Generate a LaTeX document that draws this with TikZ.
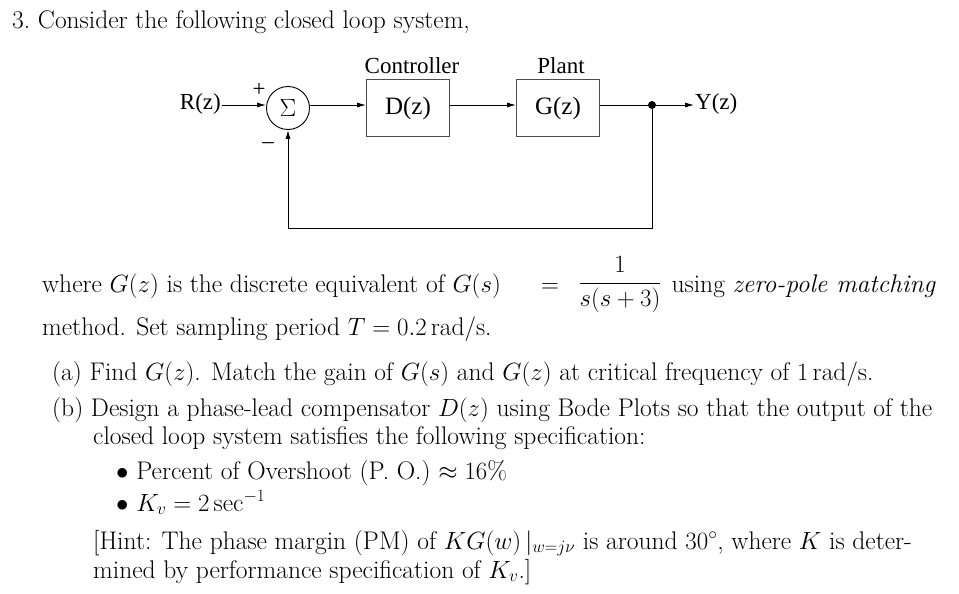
\documentclass[tikz,border=0pt]{standalone}
\usepackage{amsmath,amssymb}
\usepackage{fontspec}
\setmainfont{Latin Modern Roman}
\newfontfamily\diag{Liberation Serif}
\usetikzlibrary{arrows.meta}
\begin{document}
\begin{tikzpicture}[x=1pt,y=-1pt,
  blk/.style={draw=black!70,line width=0.9pt,minimum width=83pt,minimum height=57pt,font=\diag\fontsize{25}{28}\selectfont},
  lbl/.style={font=\diag\fontsize{23}{26}\selectfont},
  conn/.style={line width=0.9pt,-{Latex[length=9pt,width=5pt]}},
  txt/.style={anchor=north west,inner sep=0pt,font=\fontsize{25.5}{30}\selectfont}]
\useasboundingbox (0,0) rectangle (959,594);
\node[txt] (t0) at (12,10) {3.\ Consider the following closed loop system,};
\node[draw,circle,line width=0.9pt,minimum size=43pt,inner sep=0pt,font=\fontsize{30}{32}\selectfont] (s) at (288,108) {$\Sigma$};
\node[blk] (d) at (408,108) {D(z)};
\node[blk] (g) at (558,108) {G(z)};
\node[lbl,anchor=east,inner sep=1pt] (r) at (222,104) {R(z)};
\node[lbl,anchor=west,inner sep=1pt] (y) at (694,104) {Y(z)};
\node[lbl] (cl) at (412,66) {Controller};
\node[lbl] (pl) at (561,66) {Plant};
\node[font=\diag\fontsize{23}{24}\selectfont] (pp) at (259,90) {+};
\node[font=\diag\fontsize{23}{24}\selectfont] (mm) at (268,146) {\textendash};
\coordinate (j) at (652,105);
\coordinate (b1) at (652,228);
\coordinate (b2) at (288,228);
\fill (j) circle (4pt);
\draw[conn] (r.east |- j) -- (s.west |- j);
\draw[conn] (s.east |- j) -- (d.west |- j);
\draw[conn] (d.east |- j) -- (g.west |- j);
\draw[line width=0.9pt] (g.east |- j) -- (j);
\draw[conn] (j) -- (y.west |- j);
\draw[conn] (j) -- (b1) -- (b2) -- (s.south);
\node[txt,anchor=base west] (t1) at (42,292) {where $G(z)$ is the discrete equivalent of $G(s)$};
\node[inner sep=0pt,font=\fontsize{25.5}{30}\selectfont,anchor=base] (eq) at (550,292) {$=$};
\node[inner sep=0pt,font=\fontsize{25.5}{30}\selectfont] (fr) at (620,285) {$\dfrac{1}{s(s+3)}$};
\node[txt,anchor=base east] (t1b) at (936,292) {using \textit{zero-pole matching}};
\node[txt,anchor=base west] (t2) at (42,335) {method. Set sampling period $T = 0.2\,\mathrm{rad/s}$.};
\node[txt,anchor=base west] (t3) at (52,380) {(a) Find $G(z)$. Match the gain of $G(s)$ and $G(z)$ at critical frequency of $1\,\mathrm{rad/s}$.};
\node[txt,anchor=base west] (t4) at (52,416) {(b) Design a phase-lead compensator $D(z)$ using Bode Plots so that the output of the};
\node[txt,anchor=base west] (t5) at (93,444) {closed loop system satisfies the following specification:};
\node[txt,anchor=base west] (t6) at (116,479) {$\bullet$\ Percent of Overshoot (P.\ O.) $\approx 16\%$};
\node[txt,anchor=base west] (t7) at (116,511) {$\bullet$\ $K_v = 2\,\mathrm{sec}^{-1}$};
\node[txt,anchor=base west] (t8) at (93,549) {[Hint: The phase margin (PM) of $KG(w)\,|_{w=j\nu}$ is around $30^\circ$, where $K$ is deter-};
\node[txt,anchor=base west] (t9) at (93,578) {mined by performance specification of $K_v$.]};
\end{tikzpicture}
\end{document}
